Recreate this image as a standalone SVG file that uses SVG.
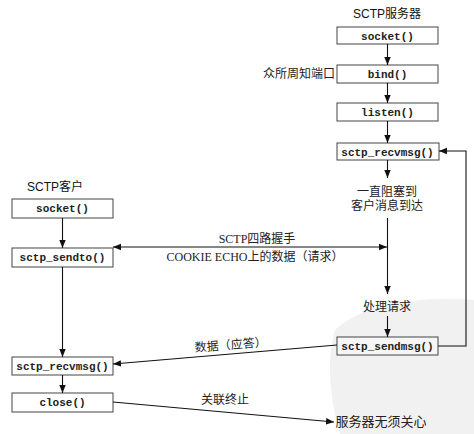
<svg xmlns="http://www.w3.org/2000/svg" width="474" height="434" viewBox="0 0 474 434">
<defs>
<marker id="ah" viewBox="0 0 10 10" refX="10" refY="5" markerWidth="8" markerHeight="8" markerUnits="userSpaceOnUse" orient="auto-start-reverse">
<path d="M0,1 L10,5 L0,9 Z" fill="#111"/>
</marker>
</defs>
<style>
.box{fill:#fff;stroke:#444;stroke-width:1}
.code{font-family:"Liberation Mono",monospace;font-size:11px;font-weight:bold;fill:#222;text-anchor:middle}
.ttl{font-family:"Liberation Sans","Noto Sans CJK SC",sans-serif;font-size:12px;fill:#111;text-anchor:middle}
.lbl{font-family:"Liberation Serif","Noto Sans CJK SC",serif;font-size:12px;fill:#222;text-anchor:middle}
.ln{stroke:#111;stroke-width:1.1;fill:none}
</style>
<rect width="474" height="434" fill="#fff"/>
<path d="M335,330 C365,302 420,296 474,300 L474,434 L340,434 C330,400 326,360 335,330 Z" fill="#f1f1f1"/>

<g id="server-title"><text class="ttl" x="387" y="18">SCTP服务器</text></g>
<g id="client-title"><text class="ttl" x="55" y="191">SCTP客户</text></g>

<g id="s-socket"><rect class="box" x="337" y="27" width="101" height="17"/><text class="code" x="387.5" y="39.5">socket()</text></g>
<g id="s-bind"><rect class="box" x="337" y="65" width="101" height="18"/><text class="code" x="387.5" y="78">bind()</text></g>
<g id="s-port-label"><text class="lbl" x="335" y="78" style="text-anchor:end">众所周知端口</text></g>
<g id="s-listen"><rect class="box" x="337" y="103" width="101" height="18"/><text class="code" x="387.5" y="116">listen()</text></g>
<g id="s-recvmsg"><rect class="box" x="337" y="143" width="102" height="17"/><text class="code" x="387.5" y="155.5">sctp_recvmsg()</text></g>
<g id="s-block-label"><text class="lbl" x="387" y="196">一直阻塞到</text><text class="lbl" x="387" y="210">客户消息到达</text></g>
<g id="s-process-label"><text class="lbl" x="387" y="311">处理请求</text></g>
<g id="s-sendmsg"><rect class="box" x="337" y="337" width="101" height="18" style="fill:#f6f6f6"/><text class="code" x="387.5" y="350">sctp_sendmsg()</text></g>
<g id="s-dontcare"><text class="lbl" x="381" y="426" style="font-size:13px">服务器无须关心</text></g>

<g id="c-socket"><rect class="box" x="12" y="199" width="101" height="19"/><text class="code" x="62.5" y="212">socket()</text></g>
<g id="c-sendto"><rect class="box" x="12" y="248" width="101" height="19"/><text class="code" x="62.5" y="261">sctp_sendto()</text></g>
<g id="c-recvmsg"><rect class="box" x="12" y="357" width="101" height="18"/><text class="code" x="62.5" y="370">sctp_recvmsg()</text></g>
<g id="c-close"><rect class="box" x="12" y="393" width="101" height="19"/><text class="code" x="62.5" y="406">close()</text></g>

<g id="connectors">
<line class="ln" x1="387.5" y1="44" x2="387.5" y2="65" marker-end="url(#ah)"/>
<line class="ln" x1="387.5" y1="83" x2="387.5" y2="103" marker-end="url(#ah)"/>
<line class="ln" x1="387.5" y1="121" x2="387.5" y2="143" marker-end="url(#ah)"/>
<line class="ln" x1="387.5" y1="160" x2="387.5" y2="178" marker-end="url(#ah)"/>
<line class="ln" x1="387.5" y1="218" x2="387.5" y2="294" marker-end="url(#ah)"/>
<line class="ln" x1="387.5" y1="316" x2="387.5" y2="337" marker-end="url(#ah)"/>
<polyline class="ln" points="438,346 466,346 466,151 439,151" marker-end="url(#ah)"/>
<line class="ln" x1="113" y1="247" x2="387" y2="247" marker-start="url(#ah)" marker-end="url(#ah)"/>
<line class="ln" x1="337" y1="345" x2="113" y2="364" marker-end="url(#ah)"/>
<line class="ln" x1="113" y1="402" x2="334" y2="422" marker-end="url(#ah)"/>
<line class="ln" x1="62.5" y1="218" x2="62.5" y2="248" marker-end="url(#ah)"/>
<line class="ln" x1="62.5" y1="267" x2="62.5" y2="357" marker-end="url(#ah)"/>
<line class="ln" x1="62.5" y1="375" x2="62.5" y2="393" marker-end="url(#ah)"/>
</g>
<g id="edge-labels">
<text class="lbl" x="257" y="243">SCTP四路握手</text>
<text class="lbl" x="255" y="261">COOKIE ECHO上的数据（请求）</text>
<text class="lbl" x="231" y="349" transform="rotate(-4.5 231 349)">数据（应答）</text>
<text class="lbl" x="225" y="404">关联终止</text>
</g>
</svg>
